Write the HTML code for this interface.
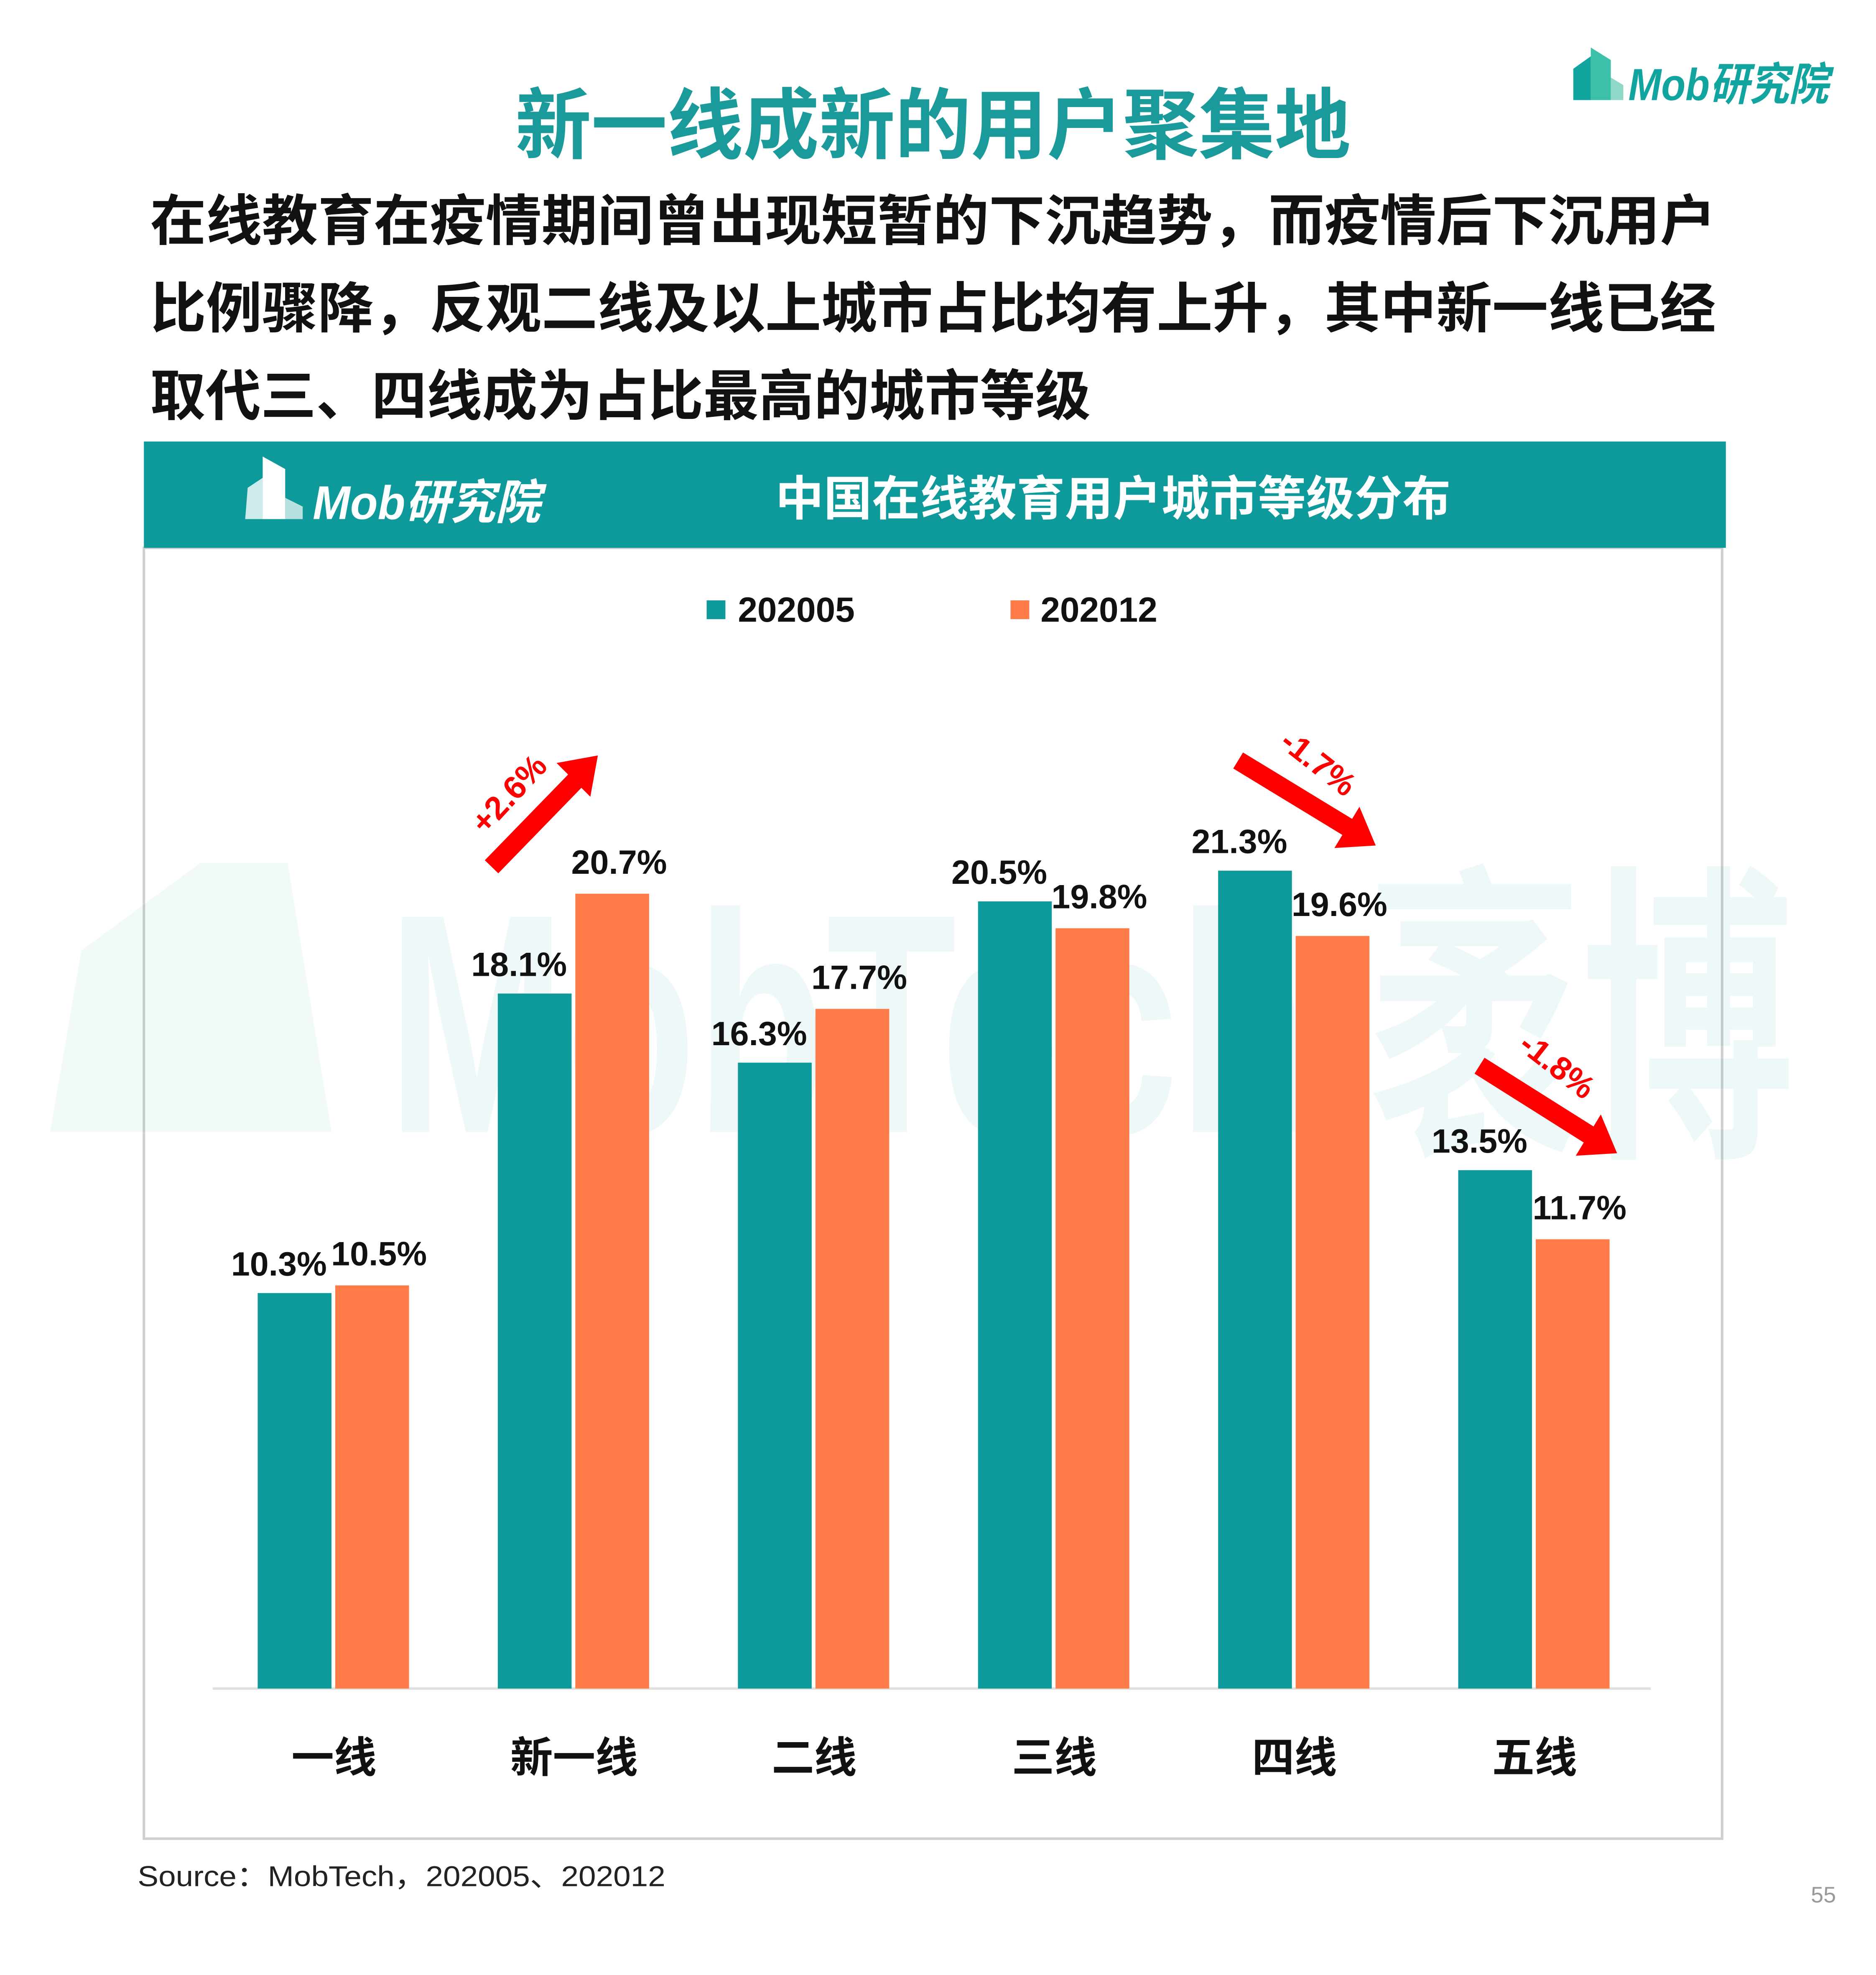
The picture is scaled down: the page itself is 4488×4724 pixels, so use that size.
<!DOCTYPE html>
<html><head><meta charset="utf-8">
<style>
html,body{margin:0;padding:0;background:#fff;}
svg{display:block;}
text{font-family:"Liberation Sans","Noto Sans CJK SC",sans-serif;}
</style></head>
<body>
<svg id="chart" width="4488" height="4724" viewBox="0 0 1500 1579" xmlns="http://www.w3.org/2000/svg">
<rect width="1500" height="1579" fill="#fff"/>
<g>
  <polygon points="1258,80 1258,55 1272,45 1272,80" fill="#12a5a0"/>
  <polygon points="1272,80 1272,38 1288,48 1288,80" fill="#3cc0a8"/>
  <polygon points="1288,80 1288,62 1298,68 1298,80" fill="#8fd8c8"/>
  <text x="1302" y="80" font-size="36" font-weight="bold" font-style="italic" fill="#12a5a0" textLength="160" lengthAdjust="spacingAndGlyphs">Mob研究院</text>
</g>
<text x="412" y="122" font-size="62" font-weight="bold" fill="#1a9a9a" textLength="668" lengthAdjust="spacingAndGlyphs">新一线成新的用户聚集地</text>
<g font-size="44" font-weight="bold" fill="#111">
  <text x="120" y="192" textLength="1252" lengthAdjust="spacingAndGlyphs">在线教育在疫情期间曾出现短暂的下沉趋势，而疫情后下沉用户</text>
  <text x="120" y="262" textLength="1252" lengthAdjust="spacingAndGlyphs">比例骤降，反观二线及以上城市占比均有上升，其中新一线已经</text>
  <text x="120" y="332" textLength="752" lengthAdjust="spacingAndGlyphs">取代三、四线成为占比最高的城市等级</text>
</g>
<rect x="115" y="438" width="1262" height="1032" fill="none" stroke="#cfcfcf" stroke-width="2"/>
<g opacity="0.06">
  <polygon points="40,905 65,760 160,690 230,690 265,905" fill="#0e9a9b"/>
  <text x="310" y="905" font-size="250" font-weight="bold" fill="#0e9a9b" textLength="1125" lengthAdjust="spacingAndGlyphs">MobTech 袤博</text>
</g>
<rect x="115" y="353" width="1265" height="85" fill="#0e9a9b"/>
<g>
  <polygon points="196,415 198,390 210,382 210,415" fill="#fff" opacity="0.8"/>
  <polygon points="210,415 210,365 228,375 228,415" fill="#fff"/>
  <polygon points="228,415 228,398 242,405 242,415" fill="#fff" opacity="0.7"/>
  <text x="250" y="415" font-size="38" font-weight="bold" font-style="italic" fill="#fff" textLength="182" lengthAdjust="spacingAndGlyphs">Mob研究院</text>
</g>
<text x="620" y="412" font-size="38" font-weight="bold" fill="#fff" textLength="540" lengthAdjust="spacingAndGlyphs">中国在线教育用户城市等级分布</text>
<g font-size="28" font-weight="bold" fill="#111">
  <rect x="565" y="480" width="15" height="15" fill="#0e9a9b"/>
  <text x="590" y="497">202005</text>
  <rect x="808" y="480" width="15" height="15" fill="#ff7b47"/>
  <text x="832" y="497">202012</text>
</g>
<line x1="170" y1="1350" x2="1320" y2="1350" stroke="#e0e0e0" stroke-width="2"/>
<g id="bars"></g>
<g>
  <g>
    <line x1="393" y1="693" x2="462" y2="622" stroke="#f00" stroke-width="15"/>
    <polygon points="478,604 472,637 445,610" fill="#f00"/>
    <text x="0" y="0" transform="translate(388,668) rotate(-47)" font-size="26" font-weight="bold" fill="#f00">+2.6%</text>
  </g>
  <g>
    <line x1="990" y1="608" x2="1082" y2="664" stroke="#f00" stroke-width="15"/>
    <polygon points="1100,676 1067,678 1087,645" fill="#f00"/>
    <text x="0" y="0" transform="translate(1022,596) rotate(38)" font-size="26" font-weight="bold" fill="#f00">-1.7%</text>
  </g>
  <g>
    <line x1="1183" y1="852" x2="1275" y2="910" stroke="#f00" stroke-width="15"/>
    <polygon points="1293,922 1260,924 1280,891" fill="#f00"/>
    <text x="0" y="0" transform="translate(1213,838) rotate(38)" font-size="26" font-weight="bold" fill="#f00">-1.8%</text>
  </g>
</g>
<text x="110" y="1508" font-size="23" fill="#222" textLength="422" lengthAdjust="spacingAndGlyphs">Source：MobTech，202005、202012</text>
<text x="1448" y="1521" font-size="18" fill="#999">55</text>
</svg>
<script>
const categories = ["一线","新一线","二线","三线","四线","五线"];
const series202005 = [10.3,18.1,16.3,20.5,21.3,13.5];
const series202012 = [10.5,20.7,17.7,19.8,19.6,11.7];
const ns = "http://www.w3.org/2000/svg";
const baseY = 1350, pxPerPct = 30.7, x0 = 267, step = 192, barW = 59;
function yScale(v){ return baseY - v * pxPerPct; }
function xCenter(i){ return x0 + i * step; }
const g = document.getElementById("bars");
function mk(tag, attrs){ const e = document.createElementNS(ns, tag); for (const k in attrs) e.setAttribute(k, attrs[k]); return e; }
categories.forEach((c, i) => {
  const cx = xCenter(i);
  const r1 = mk("rect", {x: cx - 61, y: yScale(series202005[i]), width: barW, height: baseY - yScale(series202005[i]), fill: "#0e9a9b"});
  
  
  g.appendChild(r1);
  const r2 = mk("rect", {x: cx + 1, y: yScale(series202012[i]), width: barW, height: baseY - yScale(series202012[i]), fill: "#ff7b47"});
  
  
  g.appendChild(r2);
  const t1 = mk("text", {x: cx - 44, y: yScale(series202005[i]) - 14, "text-anchor": "middle", "font-size": 27, "font-weight": "bold", fill: "#111"});
  t1.textContent = series202005[i].toFixed(1) + "%";
  
  
  g.appendChild(t1);
  const t2 = mk("text", {x: cx + 36, y: yScale(series202012[i]) - 16, "text-anchor": "middle", "font-size": 27, "font-weight": "bold", fill: "#111"});
  t2.textContent = series202012[i].toFixed(1) + "%";
  
  
  g.appendChild(t2);
  const lbl = mk("text", {x: cx, y: 1417, "text-anchor": "middle", "font-size": 34, "font-weight": "bold", fill: "#111"});
  lbl.textContent = c;
  
  
  g.appendChild(lbl);
});
</script>
</body></html>
